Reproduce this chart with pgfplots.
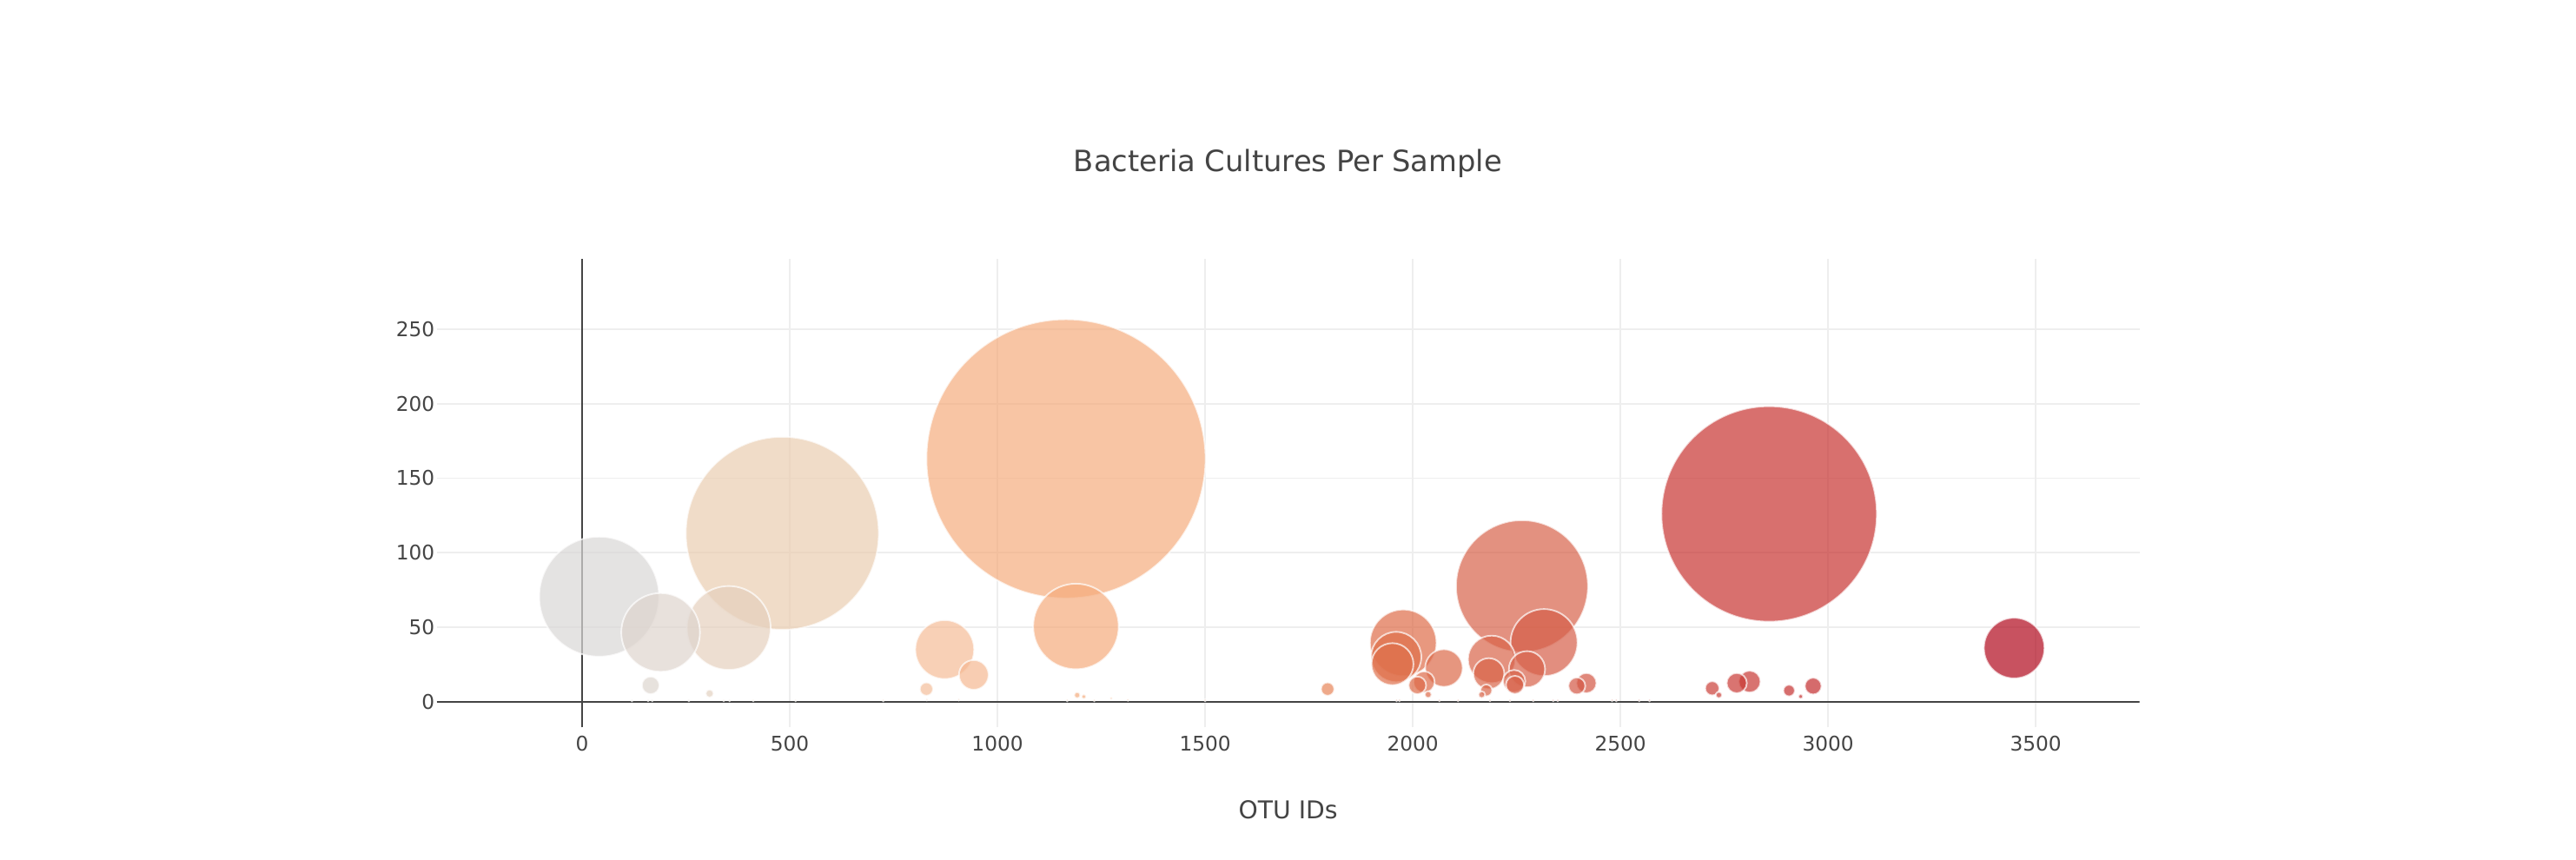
\documentclass[border=0pt]{standalone}
\usepackage{fontspec}
\setmainfont{DejaVu Sans}
\usepackage{pgfplots}
\usepackage{pgfplotstable}
\pgfplotsset{compat=1.18}

\definecolor{txt}{HTML}{444444}
\definecolor{gridc}{HTML}{EEEEEE}

% otu id, sample value (bubble size = sample value), largest first
\pgfplotstableread{
x y
1165 163
2858 126
482 113
2263 77.5
41 70.5
1189 50.5
353 49.5
189 46.5
2316 39.7
1977 39.5
3448 36
873 35
1960 30
2190 28.4
1951 25.2
2075 22.6
2275 21.8
2183 18.8
943 18
2244 13.8
2811 13.5
2027 13.2
2780 12.5
2418 12.5
2246 11.3
165 11
2011 11
2395 10.6
2964 10.5
2721 9
1795 8.5
829 8.5
2177 7.6
2906 7.5
307 5.5
2037 4.8
2166 4.7
2737 4.5
1192 4.4
2934 3.5
1208 3.4
1274 2.3
830 1.5
907 1.5
1314 1.3
120 1
159 1
169 1
257 1
341 1
355 1
412 1
514 1
725 1
1168 1
1233 1
1500 1
1961 1
1968 1
2064 1
2109 1
2186 1
2234 1
2290 1
2338 1
2349 1
2480 1
2490 1
2545 1
2570 1
}\otus

\begin{document}
\begin{tikzpicture}
\path[use as bounding box] (0,0) rectangle (1186pt,396pt);
\begin{axis}[
  at={(201.08pt,61.08pt)}, anchor=south west,
  width=784pt, height=215.6pt, scale only axis,
  xmin=-350, xmax=3750, ymin=-17.2, ymax=297,
  xtick={0,500,...,3500}, ytick={0,50,...,250},
  grid=major,
  major grid style={gridc, line width=0.75pt},
  axis line style={draw=none},
  major tick length=0pt,
  tick label style={font=\fontsize{9.3}{11}\selectfont, text=txt, inner sep=0pt},
  /pgf/number format/assume math mode=true,
  /pgf/number format/1000 sep={},
  xticklabel style={anchor=base, yshift=-10.8pt},
  yticklabel style={anchor=east, xshift=-0.8pt},
  colormap={otu}{
    rgb255(0pt)=(216,216,216)
    rgb255(200pt)=(222,212,204)
    rgb255(480pt)=(234,205,176)
    rgb255(870pt)=(245,188,151)
    rgb255(1170pt)=(245,172,125)
    rgb255(1800pt)=(231,133,88)
    rgb255(1980pt)=(222,108,72)
    rgb255(2260pt)=(215,98,74)
    rgb255(2860pt)=(199,51,49)
    rgb255(3450pt)=(176,9,29)
  },
  point meta min=0, point meta max=3450,
]
  % zero lines
  \draw[txt, line width=0.75pt] (0,-17.2) -- (0,297);
  \draw[txt, line width=0.75pt] (-350,0) -- (3750,0);

  \addplot[
    scatter, only marks, mark=*,
    point meta=x,
    scatter/use mapped color={draw=white, fill=mapped color},
    visualization depends on={max(0.396*\thisrow{y}-0.3,0.4) \as \bubr},
    scatter/@pre marker code/.append style={/tikz/mark size=\bubr pt},
    mark options={line width=0.75pt, opacity=0.7},
  ] table {\otus};
\end{axis}

\node[anchor=base, font=\fontsize{13.5}{16}\selectfont, text=txt]
  at (593pt,316.8pt) {Bacteria Cultures Per Sample};
\node[anchor=base, font=\fontsize{11.3}{13}\selectfont, text=txt]
  at (593.08pt,19.1pt) {OTU IDs};
\end{tikzpicture}
\end{document}
